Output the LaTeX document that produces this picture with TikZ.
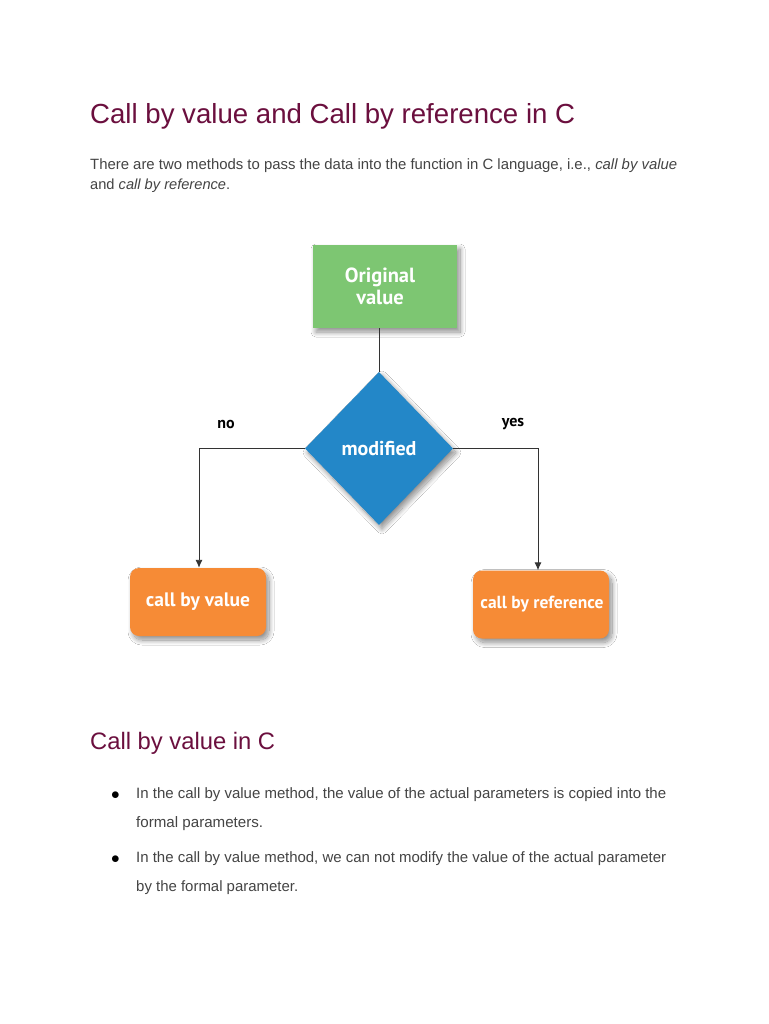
\documentclass[tikz,border=0pt]{standalone}
\usepackage{fontspec}
\setmainfont{Liberation Sans}
\newfontfamily\boxfont{PT Sans}
\usetikzlibrary{shapes.geometric,arrows.meta,shadows.blur}
\definecolor{titlecol}{HTML}{6B0F3E}
\definecolor{textcol}{HTML}{444444}
\definecolor{greenbox}{HTML}{7DC672}
\definecolor{bluedia}{HTML}{2387C8}
\definecolor{orangebox}{HTML}{F68B36}
\definecolor{linecol}{HTML}{333333}
\newcommand\fitline[2]{\resizebox{#1}{!}{#2}}
\begin{document}
\begin{tikzpicture}[x=1pt,y=-1pt,
  title/.style={anchor=base west,inner sep=0pt,text=titlecol},
  body/.style={anchor=base west,inner sep=0pt,text=textcol},
  shade/.style={blur shadow={shadow xshift=3pt,shadow yshift=-4pt,shadow blur steps=16,shadow blur radius=5pt,shadow opacity=45}},
  greenstyle/.style={rectangle,fill=greenbox,minimum width=144pt,minimum height=83pt,text=white,font=\boxfont\bfseries\fontsize{20.5}{23}\selectfont,align=center,shade},
  diastyle/.style={diamond,fill=bluedia,minimum width=148pt,minimum height=153pt,inner sep=0pt,text=white,font=\boxfont\bfseries\fontsize{20}{22}\selectfont,shade},
  orangestyle/.style={rectangle,rounded corners=9pt,fill=orangebox,minimum width=136pt,minimum height=68pt,text=white,font=\boxfont\bfseries,shade},
  lbl/.style={font=\boxfont\bfseries\fontsize{16}{18}\selectfont,text=black,inner sep=0pt},
  conn/.style={draw=linecol,line width=0.9pt},
  arr/.style={conn,-{Latex[length=8pt,width=7pt]}}]
\useasboundingbox (0,0) rectangle (768,1024);
\fill[white] (0,0) rectangle (768,1024);

\node[title] (t1) at (90,124) {\fitline{485pt}{\fontsize{28}{32}\selectfont Call by value and Call by reference in C}};
\node[body] (p1) at (90,170) {\fitline{587pt}{\fontsize{14}{16}\selectfont There are two methods to pass the data into the function in C language, i.e., \textit{call by value}}};
\node[body] (p2) at (90,190) {\fitline{140pt}{\fontsize{14}{16}\selectfont and \textit{call by reference}.}};

\node[greenstyle] (orig) at (385,286.5) {\hspace*{-10pt}Original\\[-1pt]\hspace*{-10pt}value};
\node[diastyle] (mod) at (379,448.5) {modified};
\node[orangestyle,font=\boxfont\bfseries\fontsize{19.5}{22}\selectfont] (cbv) at (198,602) {call by value};
\node[orangestyle,font=\boxfont\bfseries\fontsize{17.5}{20}\selectfont] (cbr) at (541,604.5) {\hspace*{2pt}call by reference};

\node[lbl] (no) at (226,424) {no};
\node[lbl] (yes) at (513,424) {yes};

\draw[conn] (mod.north |- orig.south) -- (mod.north);
\draw[arr] (mod.west) -| ([xshift=1pt]cbv.north);
\draw[arr] (mod.east) -| ([xshift=-3pt]cbr.north);

\node[title] (t2) at (90,749) {\fitline{185pt}{\fontsize{24}{28}\selectfont Call by value in C}};
\node[body,text=black,font=\fontsize{17}{18}\selectfont] (b1) at (111,799) {$\bullet$};
\node[body,text=black,font=\fontsize{17}{18}\selectfont] (b2) at (111,863) {$\bullet$};
\node[body] (l1) at (136,798) {\fitline{530pt}{\fontsize{14}{16}\selectfont In the call by value method, the value of the actual parameters is copied into the}};
\node[body] (l2) at (136,827) {\fitline{127pt}{\fontsize{14}{16}\selectfont formal parameters.}};
\node[body] (l3) at (136,862) {\fitline{530pt}{\fontsize{14}{16}\selectfont In the call by value method, we can not modify the value of the actual parameter}};
\node[body] (l4) at (136,891) {\fitline{162pt}{\fontsize{14}{16}\selectfont by the formal parameter.}};
\end{tikzpicture}
\end{document}
